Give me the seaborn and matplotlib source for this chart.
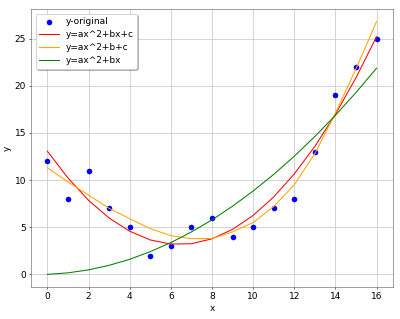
import matplotlib
matplotlib.use("Agg")
import matplotlib.pyplot as plt
import seaborn as sns
import pandas as pd

# Data
x_vals = list(range(17))
y_original = [12, 8, 11, 7, 5, 2, 3, 5, 6, 4, 5, 7, 8, 13, 19, 22, 25]
y_fit_abc = [13.05, 10.21, 7.85, 5.97, 4.57, 3.65, 3.21, 3.25, 3.77, 4.77,
             6.25, 8.21, 10.65, 13.57, 16.97, 20.85, 25.2]
y_fit_bc = [11.3, 9.8, 8.4, 7.0, 5.9, 4.85, 4.1, 3.78, 3.8, 4.5,
            5.5, 7.2, 9.5, 12.8, 17.1, 21.8, 26.8]
y_fit_bx = [0.0, 0.16, 0.48, 0.96, 1.6, 2.41, 3.37, 4.5, 5.78, 7.23,
            8.84, 10.6, 12.53, 14.62, 16.87, 19.28, 21.86]

labels = ["y-original", "y=ax^2+bx+c", "y=ax^2+b+c", "y=ax^2+bx"]

df = pd.DataFrame({"x": x_vals, "y": y_original, "abc": y_fit_abc,
                   "bc": y_fit_bc, "bx": y_fit_bx})

plt.rcParams["font.size"] = 13
plt.rcParams["axes.edgecolor"] = "#555555"

fig, ax = plt.subplots(figsize=(8, 6.38), dpi=50)
fig.subplots_adjust(left=0.0775, right=0.9825, bottom=0.1003, top=0.9718)

sns.scatterplot(data=df, x="x", y="y", color="blue", s=65, linewidth=0,
                label=labels[0], ax=ax, zorder=2)
sns.lineplot(data=df, x="x", y="abc", color="red", linewidth=1.5,
             label=labels[1], ax=ax)
sns.lineplot(data=df, x="x", y="bc", color="orange", linewidth=1.5,
             label=labels[2], ax=ax)
sns.lineplot(data=df, x="x", y="bx", color="green", linewidth=1.5,
             label=labels[3], ax=ax)

ax.set_xlabel("x")
ax.set_ylabel("y")
ax.set_xticks(range(0, 17, 2))
ax.grid(True, color="#cccccc", linewidth=1.2)
ax.legend(loc="upper left", shadow=True, labelspacing=0.45,
          handlelength=2.2, handletextpad=0.7)

fig.savefig("out.png", dpi=50)
